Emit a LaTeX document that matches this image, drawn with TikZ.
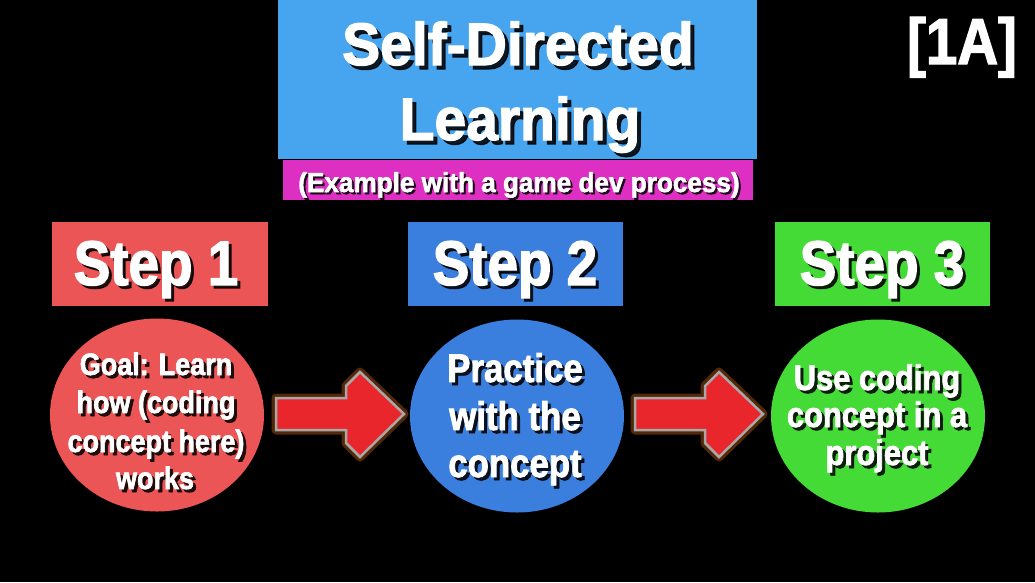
\documentclass[tikz,border=0pt]{standalone}
\usepackage{fontspec}
\newfontfamily\imp[FakeStretch=0.87,FakeBold=2]{Liberation Sans Bold}
\newfontfamily\impw[FakeStretch=0.95,FakeBold=2]{Liberation Sans Bold}
\usetikzlibrary{shapes.geometric}
\definecolor{topblue}{HTML}{46A5EE}
\definecolor{magbar}{HTML}{DE2FC3}
\definecolor{redbox}{HTML}{EC5556}
\definecolor{bluebox}{HTML}{3B7FDE}
\definecolor{greenbox}{HTML}{45DB36}
\definecolor{arrowred}{HTML}{E8262B}
\definecolor{glow}{HTML}{8A4410}
\definecolor{bevel}{HTML}{A8A8A8}
\tikzset{
  txtw/.style={text=white, inner sep=0pt, anchor=base},
  shad/.style={text=black, opacity=0.85, inner sep=0pt, anchor=base},
  stepbox/.style={rectangle, inner sep=0pt, anchor=north west},
  blob/.style={ellipse, inner sep=0pt, minimum width=214pt, minimum height=193pt},
  blockarrow/.style={fill=arrowred, draw=bevel, line width=2.5pt, line join=miter},
  arrowglow/.style={draw=glow, line width=9pt, opacity=0.6, line join=round},
}
% name, x, y(baseline), font, size, text, shadow offset
\newcommand\shline[7]{%
  \node[shad, font=#4\fontsize{#5}{#5}\selectfont, xshift=#7pt, yshift=-#7pt] (#1s) at (#2,#3) {#6};
  \node[txtw, font=#4\fontsize{#5}{#5}\selectfont] (#1) at (#2,#3) {#6};}
\begin{document}
\begin{tikzpicture}[x=1pt,y=-1pt]
\fill[black] (0,0) rectangle (1035,582);
\useasboundingbox (0,0) rectangle (1035,582);
% title boxes
\node[stepbox, fill=topblue, minimum width=479pt, minimum height=159pt] (tb) at (278,0) {};
\node[stepbox, fill=magbar, minimum width=470pt, minimum height=40pt] (mb) at (283,160) {};
\shline{t1}{518}{65}{\impw}{60}{Self-Directed}{4}
\shline{t2}{520}{140}{\impw}{60}{Learning}{4}
\shline{sub}{519}{192}{\impw}{27.5}{(Example with a game dev process)}{2}
\shline{tag}{962}{64}{\imp}{65}{[1A]}{0}
% step boxes
\node[stepbox, fill=redbox, minimum width=216pt, minimum height=84pt] (s1) at (52,222) {};
\node[stepbox, fill=bluebox, minimum width=215pt, minimum height=84pt] (s2) at (408,222) {};
\node[stepbox, fill=greenbox, minimum width=215pt, minimum height=84pt] (s3) at (775,222) {};
\shline{s1t}{156}{285}{\imp}{63}{Step 1}{3}
\shline{s2t}{515}{285}{\imp}{63}{Step 2}{3}
\shline{s3t}{882}{285}{\imp}{63}{Step 3}{3}
% circles
\node[blob, fill=redbox] (c1) at (157,415) {};
\node[blob, fill=bluebox] (c2) at (517,416) {};
\node[blob, fill=greenbox] (c3) at (878,416) {};
\shline{c1a}{156}{375}{\imp}{31}{Goal: Learn}{3}
\shline{c1b}{156}{413}{\imp}{31}{how (coding}{3}
\shline{c1c}{156}{452}{\imp}{31}{concept here)}{3}
\shline{c1d}{155}{489}{\imp}{31}{works}{3}
\shline{c2a}{515}{382}{\imp}{40}{Practice}{3}
\shline{c2b}{515}{430}{\imp}{40}{with the}{3}
\shline{c2c}{515}{477}{\imp}{40}{concept}{3}
\shline{c3a}{877}{390}{\imp}{35.5}{Use coding}{3}
\shline{c3b}{877}{427}{\imp}{35.5}{concept in a}{3}
\shline{c3c}{877}{465}{\imp}{35.5}{project}{3}
% block arrows
\foreach \dx in {0,359}{
  \begin{scope}[xshift=\dx pt]
  \draw[arrowglow] (276,398) -- (346,398) -- (346,386) -- (360,372) -- (404,414) -- (360,457) -- (346,443) -- (346,430) -- (276,430) -- cycle;
  \draw[blockarrow] (276,398) -- (346,398) -- (346,386) -- (360,372) -- (404,414) -- (360,457) -- (346,443) -- (346,430) -- (276,430) -- cycle;
  \end{scope}
}
\end{tikzpicture}
\end{document}
